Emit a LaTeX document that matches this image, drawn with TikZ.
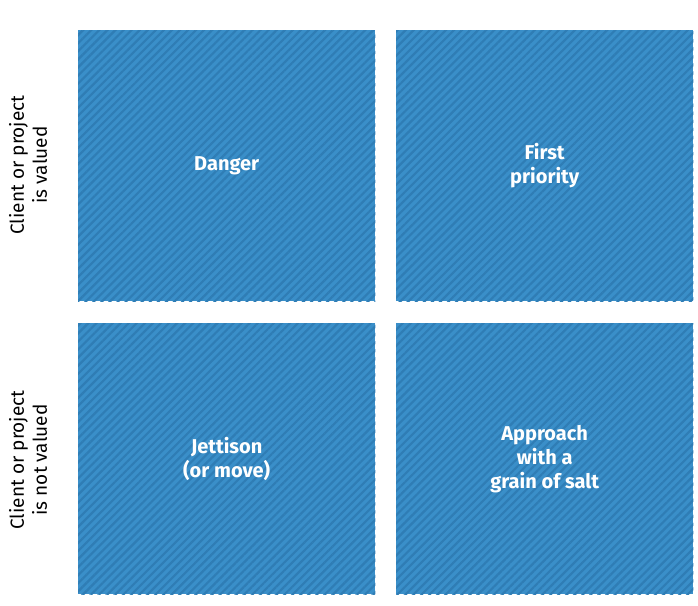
\documentclass[tikz,border=0pt]{standalone}
\usepackage{fontspec}
\setmainfont{Fira Sans}
\usetikzlibrary{patterns.meta}
\definecolor{quadblue}{HTML}{3A8FC9}
\definecolor{stripeblue}{HTML}{2F7DB5}
\tikzset{
    quad/.style={draw=none,fill=quadblue,minimum width=297pt,minimum height=271pt,anchor=north west,
        align=center,text=white,font=\fontsize{20}{24}\selectfont\bfseries},
    side/.style={rotate=90,align=center,font=\fontsize{19}{23}\selectfont}
}
\begin{document}
\begin{tikzpicture}[x=1pt,y=-1pt]
    \useasboundingbox (0,0) rectangle (698,605);

    % Quadrants
    \node[quad] (danger) at (78,30) {};
    \node[quad] (first) at (396,30) {};
    \node[quad] (jettison) at (78,323) {};
    \node[quad] (approach) at (396,323) {};
    \foreach \q in {danger,first,jettison,approach}
        \fill[pattern={Lines[angle=45,distance=5.7pt,line width=2.2pt]},pattern color=stripeblue]
            (\q.north west) rectangle (\q.south east);

    % Labels
    \node[text=white,align=center,font=\fontsize{20}{24}\selectfont\bfseries] at (danger) {Danger};
    \node[text=white,align=center,font=\fontsize{20}{24}\selectfont\bfseries] at (first) {First\\priority};
    \node[text=white,align=center,font=\fontsize{20}{24}\selectfont\bfseries] at (jettison) {Jettison\\(or move)};
    \node[text=white,align=center,font=\fontsize{20}{24}\selectfont\bfseries] at (approach) {Approach\\with a\\grain of salt};

    % Side labels
    \node[side] (valued) at (28,165) {Client or project\\is valued};
    \node[side] (notvalued) at (28,460) {Client or project\\is not valued};
\end{tikzpicture}
\end{document}
